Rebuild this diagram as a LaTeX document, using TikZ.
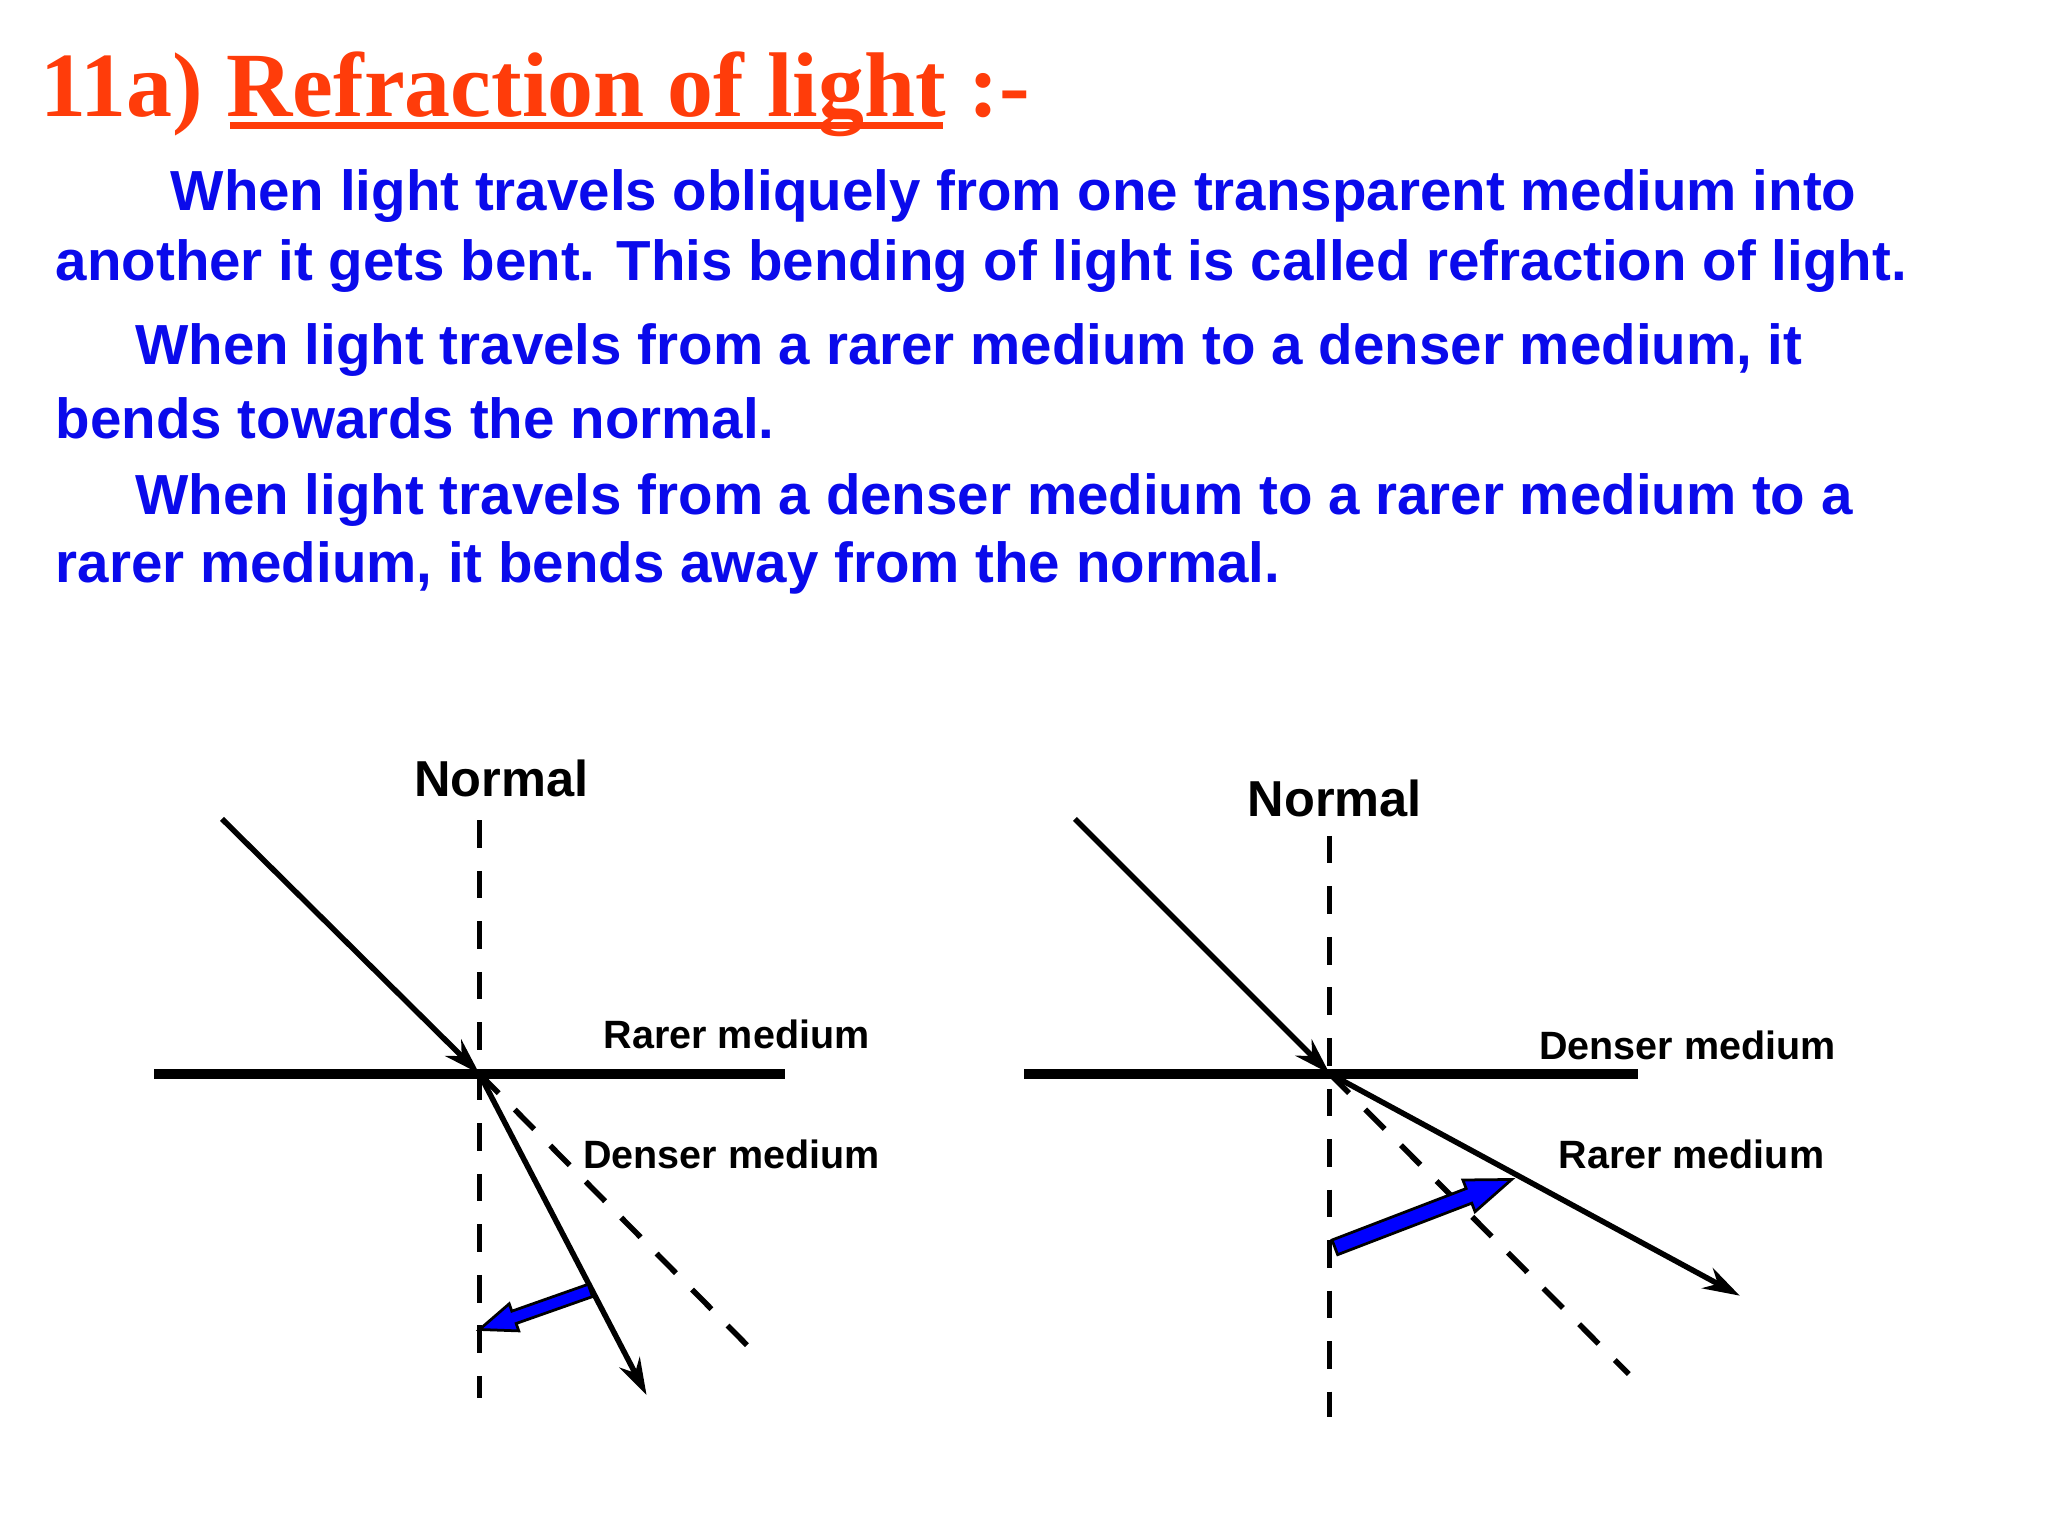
\documentclass[tikz,border=0pt]{standalone}
\usepackage{fontspec}
\setmainfont{Liberation Sans}
\newfontfamily\titlefont{Liberation Serif}
\usetikzlibrary{arrows.meta}
\definecolor{tblue}{RGB}{10,10,235}
\definecolor{torange}{RGB}{255,60,10}
\begin{document}
\begin{tikzpicture}[x=0.01cm,y=-0.01cm,
  body/.style={anchor=west,inner sep=0,text=tblue,font=\fontsize{12.3}{14}\selectfont\bfseries},
  lab/.style={inner sep=0,font=\fontsize{8.6}{10}\selectfont\bfseries},
  normlab/.style={inner sep=0,font=\fontsize{11}{12}\selectfont\bfseries},
  ray/.style={line width=1.2pt},
  surf/.style={line width=2.2pt},
  dline/.style={line width=1.2pt,dash pattern=on 6pt off 5pt},
  tipped/.style={-{Stealth[length=8pt,width=5pt]}},
  barrow/.style={fill=blue,draw=black,line width=0.6pt}]
\useasboundingbox (0,0) rectangle (1568,1176);
\node[anchor=west,inner sep=0,text=torange,font=\fontsize{20}{22}\selectfont\titlefont\bfseries] (title) at (30,72) {11a) Refraction of light :-};
\draw[torange,line width=1.5pt] (176,96) -- (722,96);
\node[body] (l1) at (130,150) {When light travels obliquely from one transparent medium into};
\node[body] (l2) at (42,204) {another it gets bent. This bending of light is called refraction of light.};
\node[body] (l3) at (103,268) {When light travels from a rarer medium to a denser medium, it};
\node[body] (l4) at (42,320) {bends towards the normal.};
\node[body] (l5) at (103,383) {When light travels from a denser medium to a rarer medium to a};
\node[body] (l6) at (42,435) {rarer medium, it bends away from the normal.};
% left diagram
\coordinate (A) at (367,822);
\coordinate (Ai) at (170,627);
\coordinate (Asl) at (118,822); \coordinate (Asr) at (601,822);
\coordinate (Ant) at (367,628); \coordinate (Anb) at (367,1070);
\coordinate (Ar) at (495,1068); \coordinate (Ad) at (572,1030);
\draw[surf] (Asl) -- (Asr);
\draw[dline] (Ant) -- (Anb);
\draw[dline] (A) -- (Ad);
\draw[ray,tipped] (Ai) -- (A);
\draw[ray,tipped] (A) -- (Ar);
\begin{scope}[shift={(452,988)},rotate=199.4]
\draw[barrow] (0,-5) -- (62,-5) -- (62,-11) -- (90,0) -- (62,11) -- (62,5) -- (0,5) -- cycle;
\end{scope}
\node[normlab] (n1) at (384,596) {Normal};
\node[lab] (r1) at (564,792) {Rarer medium};
\node[lab] (d1) at (560,884) {Denser medium};
% right diagram
\coordinate (B) at (1018,822);
\coordinate (Bi) at (823,627);
\coordinate (Bsl) at (784,822); \coordinate (Bsr) at (1254,822);
\coordinate (Bnt) at (1018,640); \coordinate (Bnb) at (1018,1085);
\coordinate (Br) at (1332,992); \coordinate (Bd) at (1247,1052);
\draw[surf] (Bsl) -- (Bsr);
\draw[dline] (Bnt) -- (Bnb);
\draw[dline] (B) -- (Bd);
\draw[ray,tipped] (Bi) -- (B);
\draw[ray,tipped] (B) -- (Br);
\begin{scope}[shift={(1022,955)},rotate=21]
\draw[barrow] (0,-6) -- (110,-6) -- (110,-13) -- (145,0) -- (110,13) -- (110,6) -- (0,6) -- cycle;
\end{scope}
\node[normlab] (n2) at (1022,611) {Normal};
\node[lab] (d2) at (1292,800) {Denser medium};
\node[lab] (r2) at (1295,884) {Rarer medium};
\end{tikzpicture}
\end{document}
